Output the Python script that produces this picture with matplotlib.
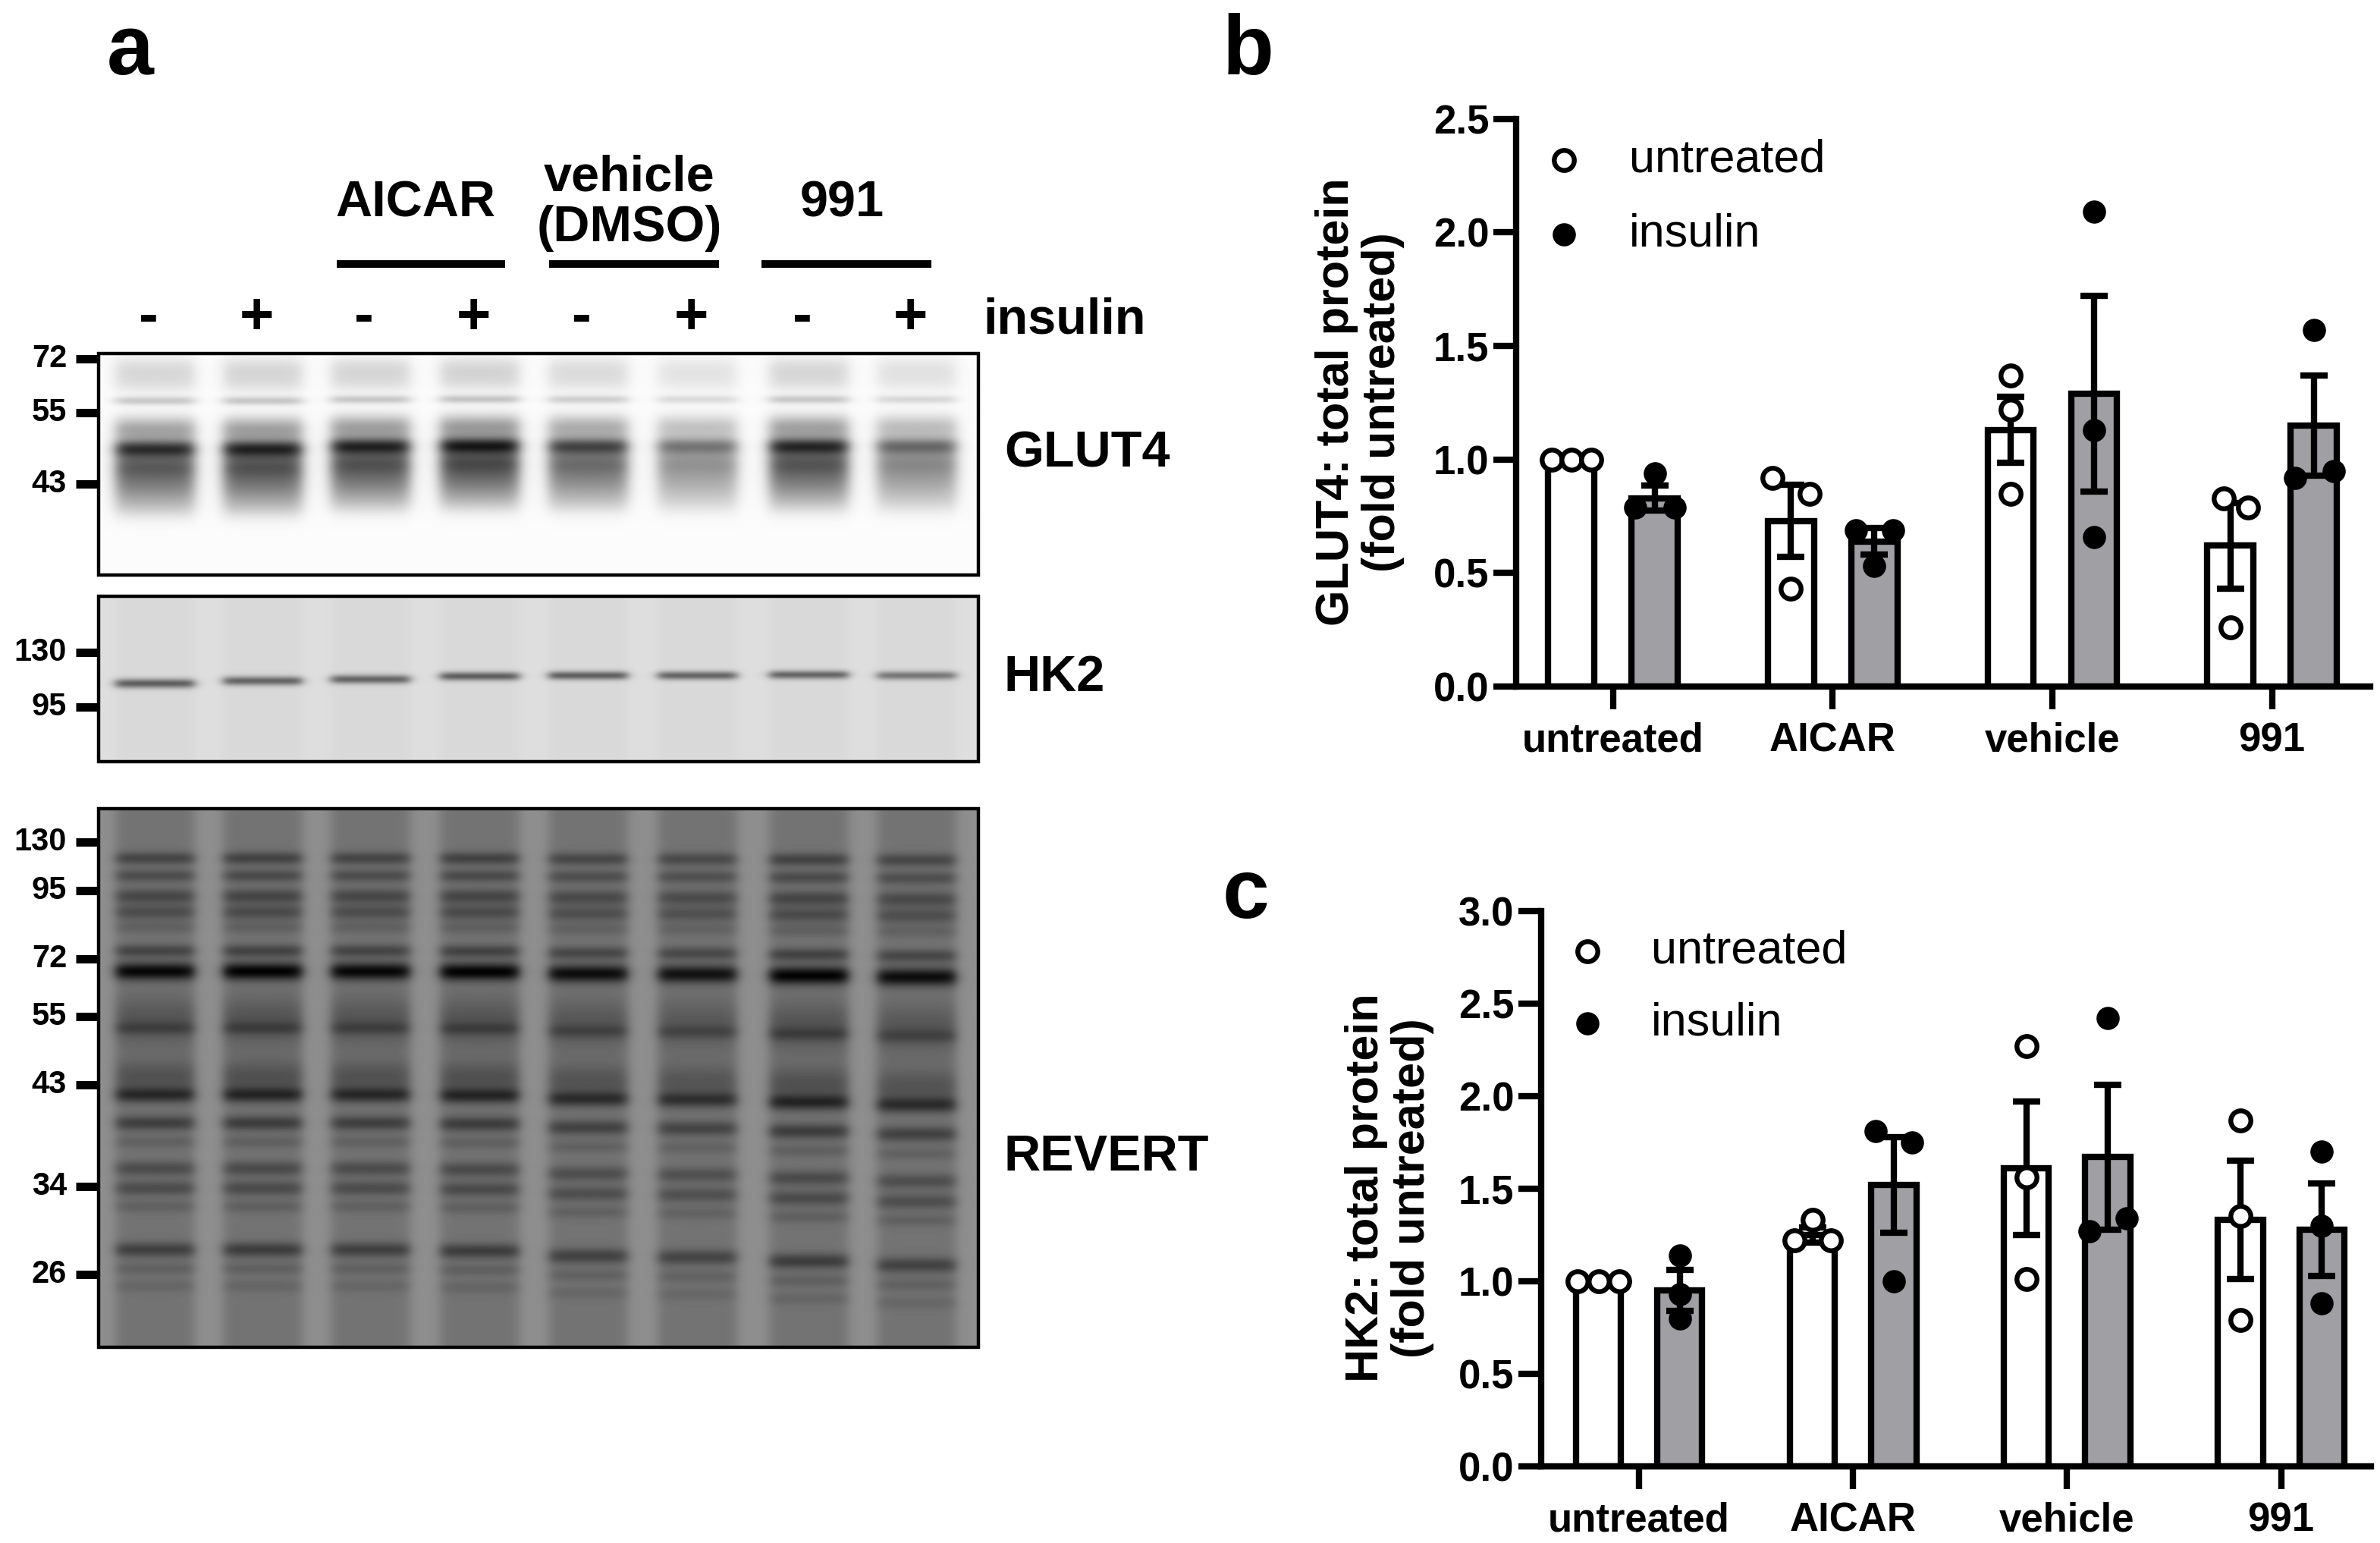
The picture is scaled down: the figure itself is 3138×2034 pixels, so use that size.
import numpy as np
import matplotlib.pyplot as plt
from matplotlib.patches import Rectangle

plt.rcParams['font.family'] = ['Liberation Sans', 'DejaVu Sans']

# ---- data ----
groups = ['untreated', 'AICAR', 'vehicle', '991']

# panel b: GLUT4 / total protein (fold untreated)
glut4_untr_mean = [1.00, 0.73, 1.13, 0.62]
glut4_untr_sem = [0.0, 0.16, 0.145, 0.19]
glut4_ins_mean = [0.83, 0.64, 1.29, 1.15]
glut4_ins_sem = [0.055, 0.06, 0.43, 0.22]
glut4_untr_pts = [[1.0, 1.0, 1.0], [0.92, 0.43, 0.85], [1.37, 1.22, 0.85], [0.83, 0.26, 0.79]]
glut4_ins_pts = [[0.79, 0.94, 0.79], [0.69, 0.53, 0.69], [2.09, 1.13, 0.66], [0.92, 1.57, 0.95]]

# panel c: HK2 / total protein (fold untreated)
hk2_untr_mean = [1.00, 1.25, 1.61, 1.33]
hk2_untr_sem = [0.0, 0.04, 0.36, 0.32]
hk2_ins_mean = [0.95, 1.52, 1.67, 1.28]
hk2_ins_sem = [0.11, 0.26, 0.39, 0.25]
hk2_untr_pts = [[1.0, 1.0, 1.0], [1.22, 1.33, 1.22], [2.27, 1.56, 1.01], [1.87, 1.35, 0.79]]
hk2_ins_pts = [[0.80, 0.93, 1.14], [1.81, 1.00, 1.75], [1.27, 2.42, 1.34], [1.70, 1.30, 0.88]]

# panel a: blot annotations
lane_signs = ['-', '+', '-', '+', '-', '+', '-', '+']
treatments = ['AICAR', 'vehicle\n(DMSO)', '991']
glut4_mw = [72, 55, 43]
hk2_mw = [130, 95]
revert_mw = [130, 95, 72, 55, 43, 34, 26]

# ---- layout / style (not data) ----
jit_b_untr = [[-0.09, 0, 0.09], [-0.085, 0, 0.085], [0, 0, 0], [-0.03, 0, 0.08]]
jit_b_ins = [[-0.09, 0, 0.09], [-0.085, 0, 0.085], [0, 0, 0], [-0.085, 0, 0.09]]
jit_c_untr = [[-0.097, 0, 0.097], [-0.085, 0, 0.085], [0, 0, 0], [0, 0, 0]]
jit_c_ins = [[0, 0, 0], [-0.085, 0, 0.085], [-0.085, 0, 0.09], [0, 0, 0]]

grey = '#a0a0a4'
LW = 3.0

fig = plt.figure(figsize=(15.69, 10.17), dpi=200)


def bar_panel(ax, um, us, im, isem, upts, ipts, ujit, ijit, ymax, xlim):
    x = np.arange(len(groups))
    off, w = 0.19, 0.21
    ax.bar(x - off, um, width=w, color='white', edgecolor='black', linewidth=LW, zorder=2)
    ax.bar(x + off, im, width=w, color=grey, edgecolor='black', linewidth=LW, zorder=2)
    ax.errorbar(x - off, um, yerr=us, fmt='none', ecolor='black', elinewidth=LW,
                capsize=6.5, capthick=LW, zorder=3)
    ax.errorbar(x + off, im, yerr=isem, fmt='none', ecolor='black', elinewidth=LW,
                capsize=6.5, capthick=LW, zorder=3)
    for i in range(len(groups)):
        ax.plot(x[i] - off + np.array(ujit[i]), upts[i], 'o', mfc='white', mec='black',
                mew=2.3, ms=9.5, zorder=4, clip_on=False)
        ax.plot(x[i] + off + np.array(ijit[i]), ipts[i], 'o', mfc='black', mec='black',
                mew=1, ms=10, zorder=4, clip_on=False)
    ax.set_xlim(*xlim)
    ax.set_ylim(0, ymax)
    yt = np.arange(0, ymax + 0.01, 0.5)
    ax.set_yticks(yt)
    ax.set_yticklabels(['%.1f' % v for v in yt])
    ax.set_xticks(x)
    ax.set_xticklabels(groups)
    for s in ['top', 'right']:
        ax.spines[s].set_visible(False)
    for s in ['left', 'bottom']:
        ax.spines[s].set_linewidth(3.0)
    ax.tick_params(axis='both', length=10.8, width=3.0, labelsize=19)
    ax.tick_params(axis='x', pad=6)
    ax.tick_params(axis='y', pad=2)
    for t in ax.get_xticklabels() + ax.get_yticklabels():
        t.set_fontweight('bold')
    # legend drawn by hand
    ax.plot([0.056], [0.928], 'o', mfc='white', mec='black', mew=2.3, ms=9.5,
            transform=ax.transAxes, clip_on=False)
    ax.plot([0.056], [0.797], 'o', mfc='black', mec='black', ms=10,
            transform=ax.transAxes, clip_on=False)
    ax.text(0.132, 0.928, 'untreated', fontsize=22, va='center', transform=ax.transAxes)
    ax.text(0.132, 0.797, 'insulin', fontsize=22, va='center', transform=ax.transAxes)


ax_b = fig.add_axes([0.637, 0.555, 0.359, 0.368])
bar_panel(ax_b, glut4_untr_mean, glut4_untr_sem, glut4_ins_mean, glut4_ins_sem,
          glut4_untr_pts, glut4_ins_pts, jit_b_untr, jit_b_ins, 2.5, (-0.441, 3.448))
fig.text(0.5714, 0.7394, 'GLUT4: total protein\n(fold untreated)', rotation=90,
         ha='center', va='center', fontsize=22, fontweight='bold', linespacing=1.1)

ax_c = fig.add_axes([0.6476, 0.0497, 0.3486, 0.3599])
bar_panel(ax_c, hk2_untr_mean, hk2_untr_sem, hk2_ins_mean, hk2_ins_sem,
          hk2_untr_pts, hk2_ins_pts, jit_c_untr, jit_c_ins, 3.0, (-0.457, 3.42))
fig.text(0.5838, 0.230, 'HK2: total protein\n(fold untreated)', rotation=90,
         ha='center', va='center', fontsize=22, fontweight='bold', linespacing=1.1)

# panel letters
fig.text(0.0449, 0.9518, 'a', fontsize=40, fontweight='bold', va='baseline')
fig.text(0.5137, 0.9518, 'b', fontsize=40, fontweight='bold', va='baseline')
fig.text(0.5137, 0.405, 'c', fontsize=40, fontweight='bold', va='baseline')

# ---- panel a: blots, drawn in pixel coordinates ----
ax_a = fig.add_axes([0, 0, 0.52, 1])
ax_a.set_xlim(0, 0.52 * 3138)
ax_a.set_ylim(2034, 0)
ax_a.axis('off')

lane_x = [204, 346, 488, 632, 775, 919, 1066, 1208]
lane_w = 104


def lane_mask(xx, cx, soft):
    return 0.5 * (np.tanh((xx - (cx - lane_w / 2)) / soft) - np.tanh((xx - (cx + lane_w / 2)) / soft))


def blot(x0, x1, y0, y1, bands, scale, tilt, base, lane_bg, soft=8):
    xx = np.arange(x0, x1, dtype=float)
    yy = np.arange(y0, y1, dtype=float)[:, None]
    dark = np.zeros((len(yy), len(xx)))
    for k, cx in enumerate(lane_x):
        m = lane_mask(xx, cx, soft)[None, :]
        shift = tilt[k] * (yy - y0) / (y1 - y0)
        prof = lane_bg * np.ones_like(yy)
        for by, bs, bi in bands:
            prof = prof + bi * scale[k] * np.exp(-0.5 * ((yy - by - shift) / bs) ** 2)
        dark += m * prof
    img = np.clip(base - dark, 0, 1)
    ax_a.imshow(img, cmap='gray', vmin=0, vmax=1, extent=[x0, x1, y1, y0],
                aspect='auto', interpolation='bilinear', zorder=1)
    ax_a.add_patch(Rectangle((x0, y0), x1 - x0, y1 - y0, fill=False, lw=1.6,
                             edgecolor='black', zorder=2))


glut4_bands = [(486, 12, 0.13), (505, 10, 0.08), (527, 4, 0.20), (565, 12, 0.36),
               (589, 8, 0.62), (610, 14, 0.55), (638, 16, 0.42), (664, 12, 0.14)]
blot(130, 1290, 466, 758, glut4_bands, [0.95, 1.0, 1.0, 1.05, 0.85, 0.62, 0.98, 0.68],
     [4, 4, -4, -6, -4, -4, -4, -4], 0.985, 0.0, soft=11)

hk2_bands = [(890, 4, 0.48)]
blot(130, 1290, 786, 1004, hk2_bands, [1.0, 0.95, 0.95, 1.0, 1.0, 0.95, 0.95, 0.8],
     [20, 14, 10, 2, 0, 0, -2, 0], 0.87, 0.02)

revert_bands = [(1131, 6, 0.18), (1154, 6, 0.15), (1181, 7, 0.17), (1202, 7, 0.15),
                (1222, 6, 0.07), (1253, 6, 0.18), (1280, 8, 0.42), (1346, 22, 0.12),
                (1355, 6, 0.10), (1420, 16, 0.13), (1443, 7, 0.25),
                (1480, 7, 0.20), (1505, 6, 0.07), (1540, 7, 0.15), (1566, 7, 0.15),
                (1590, 6, 0.07), (1647, 7, 0.20), (1672, 6, 0.07), (1695, 6, 0.05)]
blot(130, 1290, 1066, 1776, revert_bands, [1.0, 1.05, 1.0, 1.05, 0.95, 0.9, 1.05, 0.95],
     [0, 0, 0, 2, 10, 12, 18, 24], 0.56, 0.11, soft=9)


def mw_ticks(vals, ys):
    for v, y in zip(vals, ys):
        ax_a.plot([100, 129], [y, y], color='black', lw=4, solid_capstyle='butt')
        ax_a.text(88, y, str(v), ha='right', va='center', fontsize=15, fontweight='bold')


mw_ticks(glut4_mw, [473, 544, 638])
mw_ticks(hk2_mw, [860, 932])
mw_ticks(revert_mw, [1110, 1174, 1264, 1340, 1430, 1564, 1680])

for lbl, y in zip(['GLUT4', 'HK2', 'REVERT'], [598, 894, 1526]):
    ax_a.text(1324, y, lbl, ha='left', va='center', fontsize=24, fontweight='bold')

for sgn, cx in zip(lane_signs, lane_x):
    ax_a.text(cx - 8, 420, sgn, ha='center', va='center', fontsize=28, fontweight='bold')
ax_a.text(1296, 422, 'insulin', ha='left', va='center', fontsize=24, fontweight='bold')

for lbl, cx, (lx0, lx1) in zip(treatments, [548, 830, 1110],
                               [(444, 666), (724, 948), (1004, 1228)]):
    ax_a.text(cx, 268, lbl, ha='center', va='center', fontsize=24, fontweight='bold',
              linespacing=1.1)
    ax_a.plot([lx0, lx1], [348, 348], color='black', lw=3.6, solid_capstyle='butt')

fig.savefig('out.png', dpi=200)
